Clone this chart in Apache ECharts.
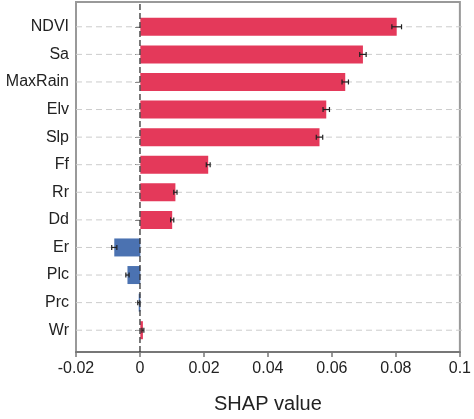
<!DOCTYPE html>
<html>
<head>
<meta charset="utf-8">
<script src="https://cdn.jsdelivr.net/npm/echarts@6/dist/echarts.min.js"></script>
<style>html,body{margin:0;padding:0;background:#fff}#main{width:474px;height:419px}</style>
</head>
<body>
<div id="main"></div>
<script>
var categories = ['NDVI', 'Sa', 'MaxRain', 'Elv', 'Slp', 'Ff', 'Rr', 'Dd', 'Er', 'Plc', 'Prc', 'Wr'];
var shapValues = [0.0797, 0.0692, 0.0637, 0.0578, 0.0557, 0.0211, 0.0109, 0.0099, -0.0081, -0.0040, -0.0005, 0.0008];
var errValues = [0.0015, 0.0010, 0.0010, 0.0010, 0.0010, 0.0006, 0.0005, 0.0005, 0.0008, 0.0005, 0.0003, 0.0003];
var xTicks = [-0.02, 0, 0.02, 0.04, 0.06, 0.08, 0.1];

var red = '#e4395a', blue = '#4b72b1';
var chart = echarts.init(document.getElementById('main'));

var font = 'Arial, Liberation Sans, sans-serif';
var barData = shapValues.map(function(v) {
	return { value: v, itemStyle: { color: v >= 0 ? red : blue } };
});

chart.setOption({
	animation: false,
	grid: [
		{ left: 76, right: 12, top: 2, height: 357, show: true, borderColor: '#999', borderWidth: 2, backgroundColor: 'transparent' },
		{ left: 76, right: 12, top: 13, height: 331 }
	],
	xAxis: [{
		gridIndex: 0, type: 'value', min: -0.02, max: 0.1, interval: 0.02,
		name: 'SHAP value', nameLocation: 'middle', nameGap: 42,
		nameTextStyle: { fontSize: 20, color: '#222', fontFamily: font },
		axisLine: { show: true, lineStyle: { color: '#777', width: 2 } },
		axisTick: { show: true, length: 5, lineStyle: { color: '#777', width: 1.5 } },
		axisLabel: { fontSize: 16, color: '#222', fontFamily: font, margin: 9,
			formatter: function(v) { return String(+v.toFixed(2)); } },
		splitLine: { show: false }
	}, {
		gridIndex: 1, type: 'value', min: -0.02, max: 0.1, show: false
	}],
	yAxis: [{
		gridIndex: 0, type: 'value', min: 0, max: 1, show: false
	}, {
		gridIndex: 1, type: 'category', data: categories, inverse: true,
		axisLine: { show: false },
		axisTick: { show: true, alignWithLabel: true, length: 5, lineStyle: { color: '#555' } },
		axisLabel: { fontSize: 16, color: '#222', fontFamily: font, margin: 7 },
		splitLine: { show: false }
	}],
	series: [{
		// dashed row guide lines
		type: 'custom', xAxisIndex: 1, yAxisIndex: 1, z: 1, silent: true,
		data: categories.map(function(c, i) { return [i]; }),
		renderItem: function(params, api) {
			var y = api.coord([0, api.value(0)])[1];
			var x0 = api.coord([-0.02, 0])[0], x1 = api.coord([0.1, 0])[0];
			return { type: 'line', shape: { x1: x0, y1: y, x2: x1, y2: y },
				style: { stroke: '#ccc', lineWidth: 1, lineDash: [6, 4] } };
		}
	}, {
		type: 'bar', xAxisIndex: 1, yAxisIndex: 1, z: 2, barWidth: 18,
		data: barData
	}, {
		// error bars
		type: 'custom', xAxisIndex: 1, yAxisIndex: 1, z: 4, silent: true,
		data: shapValues.map(function(v, i) { return [v - errValues[i], v + errValues[i], i]; }),
		renderItem: function(params, api) {
			var a = api.coord([api.value(0), api.value(2)]);
			var b = api.coord([api.value(1), api.value(2)]);
			var h = 2.5;
			return { type: 'group', children: [
				{ type: 'line', shape: { x1: a[0], y1: a[1], x2: b[0], y2: b[1] }, style: { stroke: '#222', lineWidth: 1.2 } },
				{ type: 'line', shape: { x1: a[0], y1: a[1] - h, x2: a[0], y2: a[1] + h }, style: { stroke: '#222', lineWidth: 1.2 } },
				{ type: 'line', shape: { x1: b[0], y1: b[1] - h, x2: b[0], y2: b[1] + h }, style: { stroke: '#222', lineWidth: 1.2 } }
			] };
		}
	}, {
		// zero line
		type: 'line', xAxisIndex: 0, yAxisIndex: 0, z: 5, symbol: 'none',
		data: [[0, 0], [0, 1]],
		lineStyle: { color: '#333', width: 1.3, type: [6, 3] }
	}]
});
</script>
</body>
</html>
